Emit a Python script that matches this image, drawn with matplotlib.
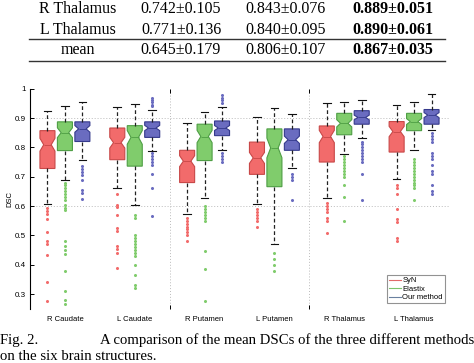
import matplotlib
matplotlib.use("Agg")
import matplotlib.pyplot as plt
from matplotlib.lines import Line2D

# ---------------- data ----------------
structures = ["R Caudate", "L Caudate", "R Putamen", "L Putamen", "R Thalamus", "L Thalamus"]
methods = ["SyN", "Elastix", "Our method"]

# per structure: [whislo, q1, median, q3, whishi]
syn_stats = [
    [0.607, 0.728, 0.809, 0.857, 0.924],
    [0.660, 0.758, 0.816, 0.866, 0.938],
    [0.573, 0.680, 0.753, 0.790, 0.884],
    [0.607, 0.708, 0.764, 0.818, 0.904],
    [0.626, 0.750, 0.837, 0.873, 0.950],
    [0.693, 0.784, 0.854, 0.888, 0.944],
]
elastix_stats = [
    [0.690, 0.789, 0.850, 0.887, 0.940],
    [0.603, 0.736, 0.834, 0.874, 0.947],
    [0.629, 0.755, 0.837, 0.879, 0.921],
    [0.469, 0.666, 0.798, 0.863, 0.934],
    [0.779, 0.843, 0.882, 0.916, 0.954],
    [0.792, 0.857, 0.888, 0.916, 0.954],
]
ours_stats = [
    [0.758, 0.820, 0.863, 0.887, 0.954],
    [0.787, 0.834, 0.866, 0.887, 0.927],
    [0.792, 0.840, 0.866, 0.890, 0.938],
    [0.728, 0.790, 0.826, 0.863, 0.913],
    [0.831, 0.879, 0.902, 0.925, 0.963],
    [0.860, 0.879, 0.910, 0.929, 0.983],
]
syn_fliers = [
    [0.592, 0.583, 0.572, 0.556, 0.512, 0.48, 0.47, 0.432, 0.34, 0.277],
    [0.64, 0.605, 0.598, 0.57, 0.525, 0.515, 0.465, 0.455, 0.44, 0.39],
    [0.56, 0.55, 0.54, 0.53, 0.52, 0.51, 0.50, 0.48],
    [0.59, 0.58, 0.57, 0.56, 0.55, 0.53],
    [0.61, 0.60, 0.59, 0.58, 0.56, 0.55, 0.508],
    [0.67, 0.66, 0.64, 0.59, 0.555, 0.545, 0.49, 0.48],
]
elastix_fliers = [
    [0.68, 0.672, 0.66, 0.65, 0.64, 0.63, 0.62, 0.605, 0.595, 0.585, 0.48, 0.465, 0.45, 0.435, 0.378, 0.31, 0.28, 0.266],
    [0.57, 0.56, 0.50, 0.49, 0.48, 0.47, 0.46, 0.45, 0.44, 0.43, 0.40, 0.365, 0.33, 0.322],
    [0.60, 0.59, 0.58, 0.57, 0.56, 0.55, 0.445, 0.385, 0.276],
    [0.44, 0.42, 0.40, 0.38],
    [0.77, 0.76, 0.75, 0.74, 0.73, 0.72, 0.71, 0.70, 0.67, 0.63, 0.55],
    [0.76, 0.75, 0.74, 0.73, 0.72, 0.71, 0.70, 0.69, 0.68, 0.67, 0.66, 0.62],
]
ours_fliers = [
    [0.736, 0.725, 0.715, 0.705, 0.69, 0.655, 0.645, 0.624],
    [0.97, 0.96, 0.955, 0.945, 0.94, 0.78, 0.77, 0.76, 0.75, 0.74, 0.71, 0.66, 0.565],
    [0.98, 0.97, 0.96, 0.95, 0.78, 0.77, 0.76, 0.75],
    [0.71, 0.70, 0.69, 0.62],
    [0.82, 0.81, 0.80, 0.79, 0.78, 0.77, 0.76, 0.75, 0.71, 0.62],
    [0.85, 0.84, 0.83, 0.82, 0.78, 0.77, 0.76, 0.74, 0.72, 0.71, 0.67, 0.65, 0.64],
]

table_rows = ["R Thalamus", "L Thalamus", "mean"]
table_syn = ["0.742\u00b10.105", "0.771\u00b10.136", "0.645\u00b10.179"]
table_elastix = ["0.843\u00b10.076", "0.840\u00b10.095", "0.806\u00b10.107"]
table_ours = ["0.889\u00b10.051", "0.890\u00b10.061", "0.867\u00b10.035"]

yticks = [0.3, 0.4, 0.5, 0.6, 0.7, 0.8, 0.9, 1.0]
ytick_labels = ["0.3", "0.4", "0.5", "0.6", "0.7", "0.8", "0.9", "1"]

# ---------------- style ----------------
face_colors = ["#F26B6B", "#80CC6C", "#6A6CC0"]
edge_colors = ["#C84848", "#4E9E44", "#353A8C"]
legend_colors = ["#E26A6A", "#7CC46C", "#6A80A0"]
offsets = [-0.25, 0.0, 0.25]
W = 474 / 100
H = 363 / 100

fig = plt.figure(figsize=(W, H), dpi=100)
serif = ["Liberation Serif", "DejaVu Serif"]
sans = ["Liberation Sans", "DejaVu Sans"]

ax = fig.add_axes([30 / 474, 1 - 308.7 / 363, 419 / 474, 220 / 363])

all_stats = [syn_stats, elastix_stats, ours_stats]
all_fliers = [syn_fliers, elastix_fliers, ours_fliers]

for m in range(3):
    stats = []
    for i in range(len(structures)):
        lo, q1, med, q3, hi = all_stats[m][i]
        half = 0.17 * (q3 - q1)
        stats.append(dict(whislo=lo, q1=q1, med=med, q3=q3, whishi=hi,
                          cilo=med - half, cihi=med + half,
                          fliers=all_fliers[m][i]))
    pos = [i + 0.5 + offsets[m] for i in range(len(structures))]
    ax.bxp(stats, positions=pos, widths=0.215, shownotches=True,
           patch_artist=True, capwidths=0.11,
           boxprops=dict(facecolor=face_colors[m], edgecolor=edge_colors[m], linewidth=0.8),
           medianprops=dict(color=edge_colors[m], linewidth=0.6),
           whiskerprops=dict(color="#222222", linestyle=(0, (3, 2)), linewidth=0.9),
           capprops=dict(color="#111111", linewidth=0.8),
           flierprops=dict(marker="o", markersize=1.2, markerfacecolor=face_colors[m],
                           markeredgecolor=face_colors[m], linestyle="none"),
           zorder=3)

for yv in (0.6, 0.9):
    ax.axhline(yv, color="#BBBBBB", linestyle=(0, (1, 2)), linewidth=0.7, zorder=1)
for xv in (2, 4):
    ax.axvline(xv, color="#BBBBBB", linestyle=(0, (1, 2)), linewidth=0.7, zorder=1)

ax.set_xlim(0, 6)
ax.set_ylim(0.25, 1.0)
ax.set_yticks(yticks)
ax.set_yticklabels(ytick_labels, fontsize=5.8, family=sans)
ax.set_xticks([2, 4])
ax.set_xticklabels([])
ax.set_xticks([i + 0.5 for i in range(len(structures))], minor=True)
ax.set_xticklabels(structures, minor=True, fontsize=5.5, family=sans)
ax.tick_params(axis="x", which="minor", length=0, pad=5)
ax.tick_params(axis="x", which="major", direction="in", length=3, width=0.7, top=True, bottom=True)
ax.tick_params(axis="y", direction="in", length=3, width=0.7, pad=3)
for s in ("top", "right", "bottom"):
    ax.spines[s].set_visible(False)
ax.spines["left"].set_linewidth(0.8)
ax.set_ylabel("DSC", fontsize=5.5, family=sans, labelpad=1)

handles = [Line2D([0], [0], color=legend_colors[k], linewidth=0.8) for k in range(3)]
leg = ax.legend(handles, methods, loc="lower right", bbox_to_anchor=(0.99, 0.025),
                handlelength=1.6, handletextpad=0.15, labelspacing=0.15,
                borderpad=0.25, borderaxespad=0.0, fancybox=False, frameon=True,
                prop=dict(family=sans, size=5.5))
leg.get_frame().set_edgecolor("#777777")
leg.get_frame().set_linewidth(0.8)

# ---------------- table (top) ----------------
col_x = [78, 181, 286, 393]
row_base = [13, 33.5, 54]
for r in range(3):
    yb = 1 - row_base[r] / 363
    fig.text(col_x[0] / 474, yb, table_rows[r], ha="center", va="baseline", fontsize=11.5, family=serif)
    fig.text(col_x[1] / 474, yb, table_syn[r], ha="center", va="baseline", fontsize=11.5, family=serif)
    fig.text(col_x[2] / 474, yb, table_elastix[r], ha="center", va="baseline", fontsize=11.5, family=serif)
    fig.text(col_x[3] / 474, yb, table_ours[r], ha="center", va="baseline", fontsize=11.5,
             family=serif, fontweight="bold")
for yl in (39.3, 60.7):
    fig.add_artist(Line2D([29 / 474, 445 / 474], [1 - yl / 363, 1 - yl / 363],
                          color="#333333", linewidth=1.0, transform=fig.transFigure))

# ---------------- caption ----------------
fig.text(0 / 474, 1 - 344 / 363, "Fig. 2.", ha="left", va="baseline", fontsize=10.6, family=serif)
fig.text(474 / 474, 1 - 344 / 363, "A comparison of the mean DSCs of the three different methods",
         ha="right", va="baseline", fontsize=10.6, family=serif)
fig.text(0 / 474, 1 - 359.5 / 363, "on the six brain structures.", ha="left", va="baseline",
         fontsize=10.6, family=serif)

fig.savefig("out.png", dpi=100)
